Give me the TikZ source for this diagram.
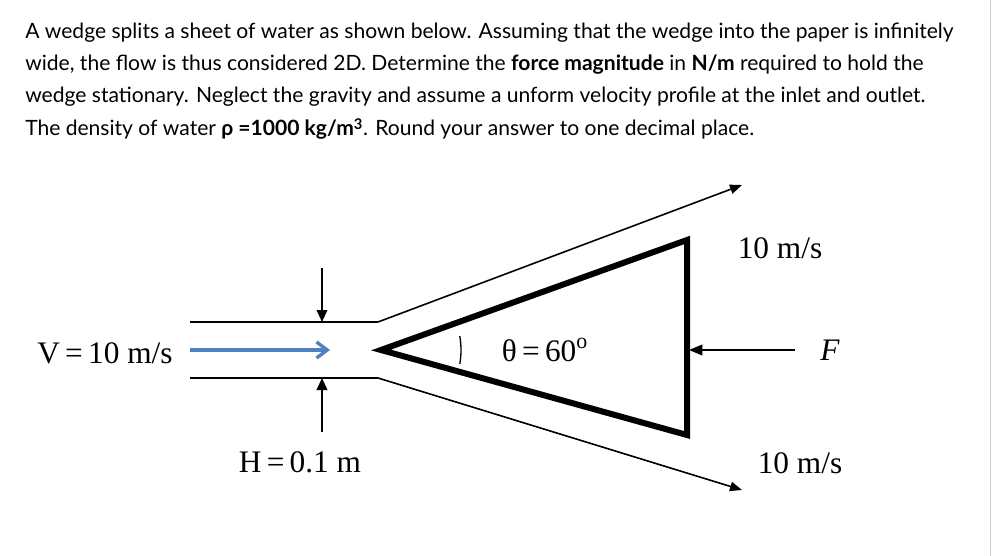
\documentclass[tikz,border=0pt]{standalone}
\usepackage{fontspec}
\setmainfont{Lato}
\newfontfamily\tnr{Liberation Serif}
\usetikzlibrary{arrows.meta}
\begin{document}
\begin{tikzpicture}[x=0.75pt,y=-0.75pt,
  thin/.style={line width=1.2pt,-{Triangle[length=9pt,width=7pt]}},
  lab/.style={font=\tnr\fontsize{23.5}{26}\selectfont},
  txt/.style={anchor=west,font=\fontsize{15.8}{19}\selectfont,inner sep=0pt}]
\useasboundingbox (0,0) rectangle (993,556);
\fill[white] (0,0) rectangle (993,556);
\draw[gray!40] (990,0) -- (990,556);
\node[txt] (l1) at (25,33) {A wedge splits a sheet of water as shown below. Assuming that the wedge into the paper is infinitely};
\node[txt] (l2) at (25,65) {wide, the flow is thus considered 2D. Determine the \textbf{force magnitude} in \textbf{N/m} required to hold the};
\node[txt] (l3) at (25,97) {wedge stationary. Neglect the gravity and assume a unform velocity profile at the inlet and outlet.};
\node[txt] (l4) at (25,129) {The density of water \textbf{ρ =1000 kg/m\textsuperscript{3}}. Round your answer to one decimal place.};
% channel
\coordinate (t0) at (190,322); \coordinate (t1) at (378,322);
\coordinate (b0) at (190,378); \coordinate (b1) at (378,378);
\coordinate (te) at (742,185); \coordinate (be) at (742,490);
\draw[line width=2pt] (t0) -- (t1);
\draw[line width=2pt] (b0) -- (b1);
\draw[thin] (t1) -- (te);
\draw[thin] (b1) -- (be);
% wedge
\coordinate (tip) at (381,350); \coordinate (wt) at (687,240); \coordinate (wb) at (687,435);
\draw[line width=4.5pt,line join=miter] (tip) -- (wt) -- (wb) -- cycle;
\draw[line width=1pt] ([shift={(-10:80)}]tip) arc[start angle=-10,end angle=10,radius=80];
% blue arrow
\coordinate (v0) at (190,350); \coordinate (v1) at (330,350);
\draw[line width=2.5pt,color={rgb,255:red,79;green,129;blue,189},-{Straight Barb[length=8pt,width=12pt]}] (v0) -- (v1);
% H arrows
\coordinate (h0) at (322,268); \coordinate (h1) at (322,432);
\draw[line width=1.2pt,-{Triangle[length=9pt,width=8pt]}] (h0) -- (t1 -| h0);
\draw[line width=1.2pt,-{Triangle[length=9pt,width=8pt]}] (h1) -- (b1 -| h1);
% F
\coordinate (f0) at (795,350); \coordinate (f1) at (689,350);
\draw[line width=1.2pt,-{Triangle[length=10pt,width=8pt]}] (f0) -- (f1);
\node[lab] (vl) at (105,353) {V\,=\,10 m/s};
\node[lab] (hl) at (300,462) {H\,=\,0.1 m};
\node[lab] (th) at (545,350) {θ\,=\,60\textsuperscript{o}};
\node[lab] (u1) at (780,248) {10 m/s};
\node[lab] (u2) at (800,463) {10 m/s};
\node[lab] (fl) at (830,350) {\textit{F}};
\end{tikzpicture}
\end{document}
